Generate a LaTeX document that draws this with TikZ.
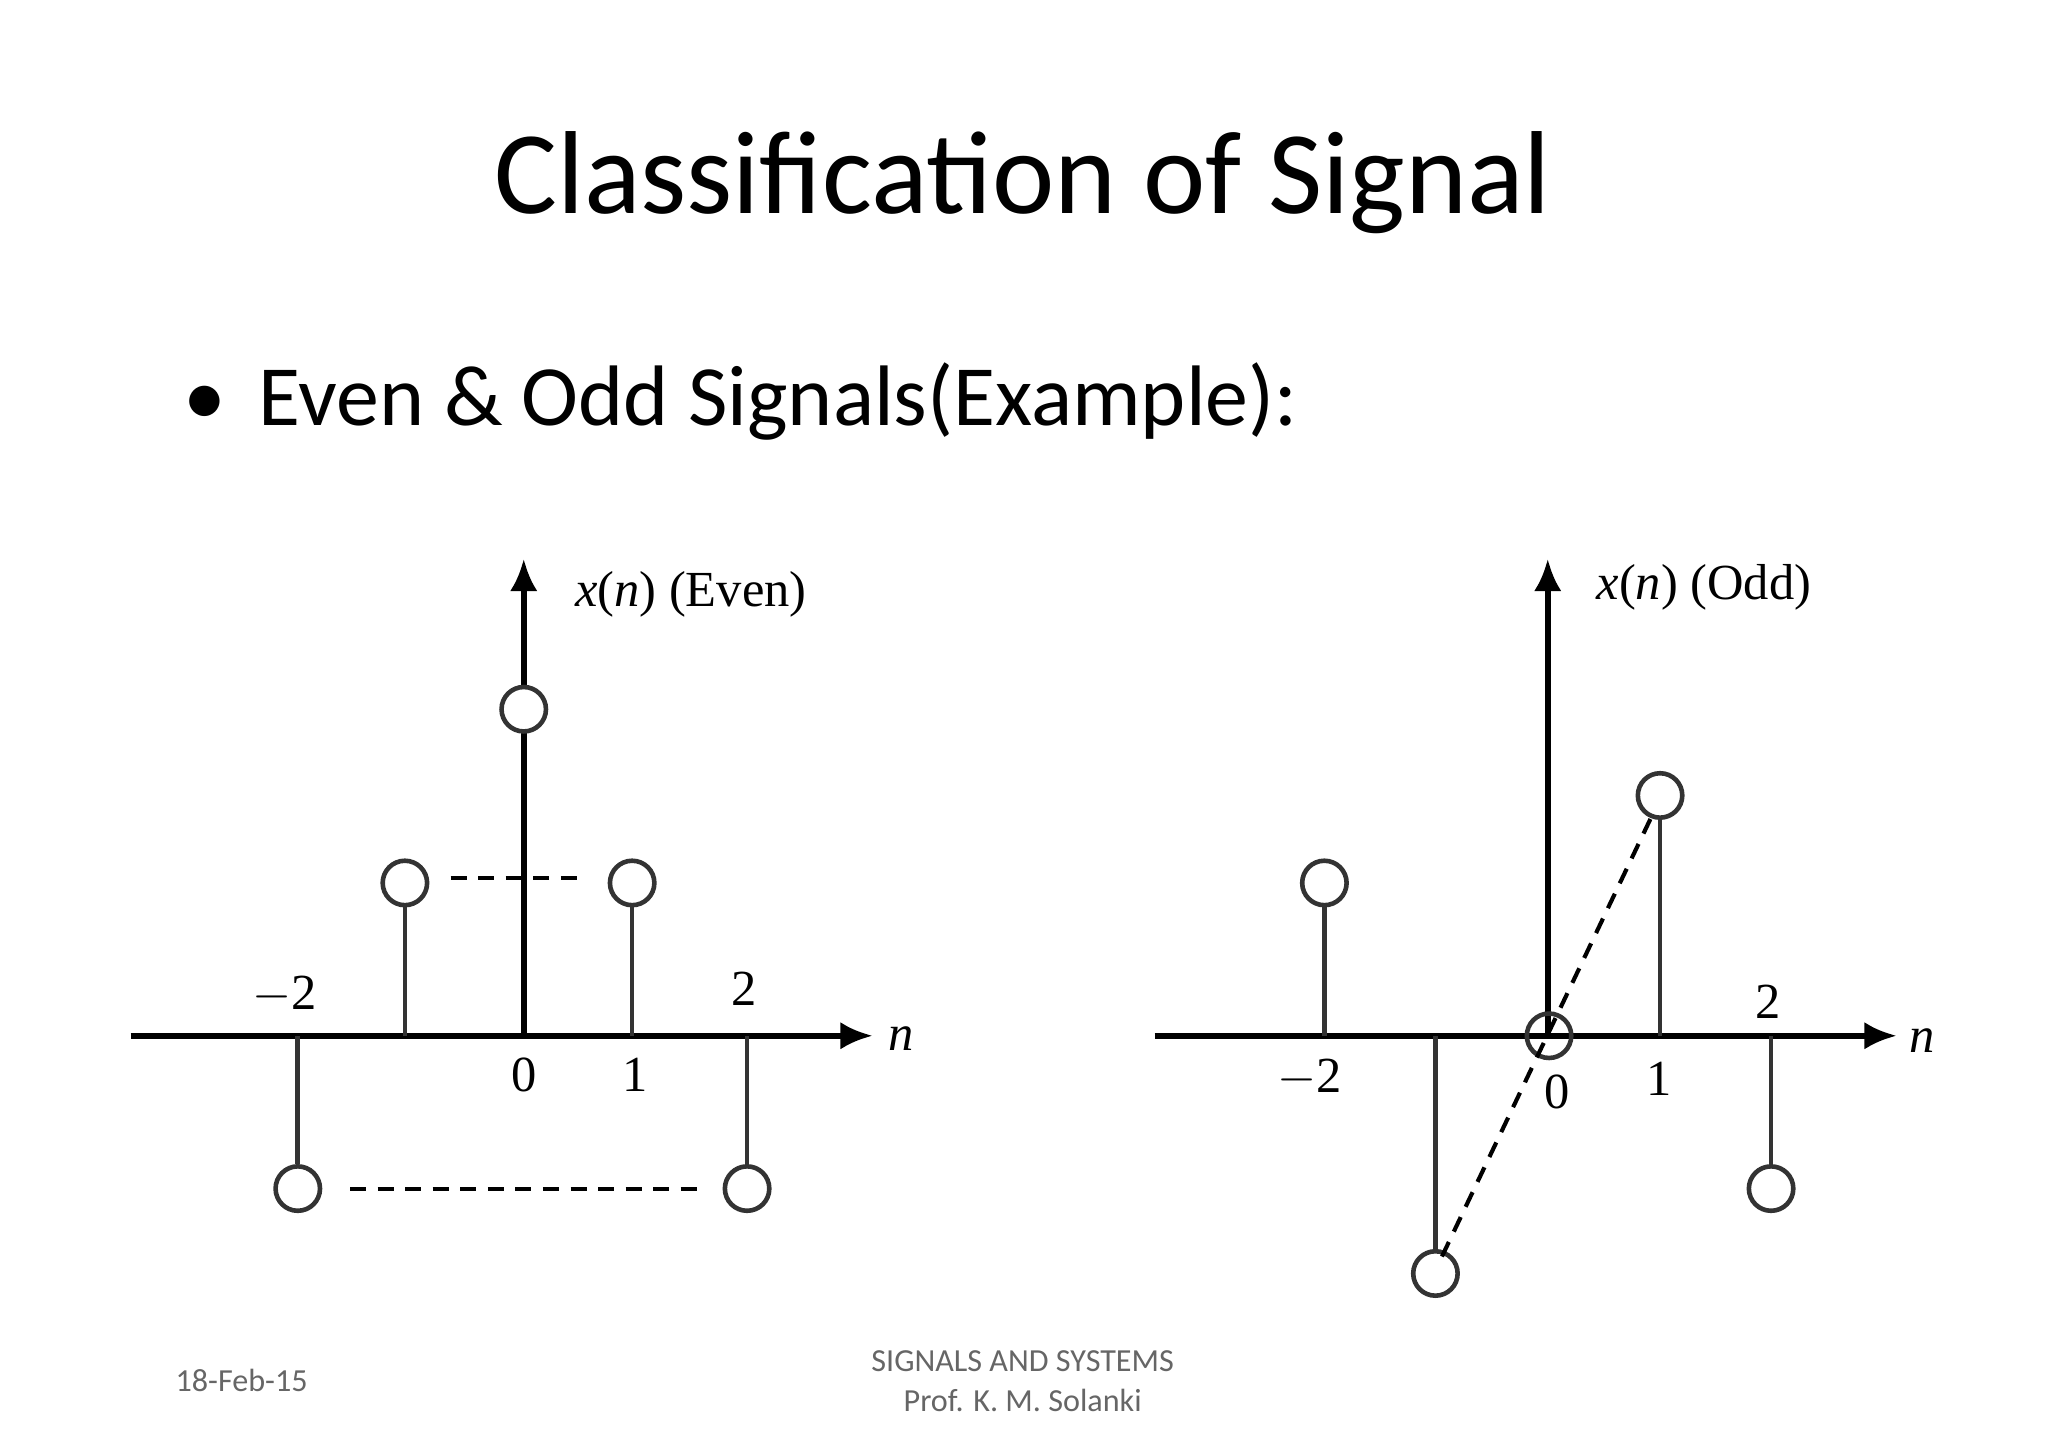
\documentclass[tikz,border=0pt]{standalone}
\usepackage{fontspec}
\setmainfont{Carlito}
\newfontfamily\tnr{Liberation Serif}
\usetikzlibrary{arrows.meta}
\begin{document}
\begin{tikzpicture}[x=0.01cm,y=-0.01cm,
  ax/.style={line width=1.2pt,-{Latex[length=7pt,width=6pt]}},
  stem/.style={line width=1pt,draw=black!80},
  dot/.style={circle,draw=black!80,line width=1pt,fill=white,minimum size=0.34cm,inner sep=0pt},
  dsh/.style={line width=0.9pt,dash pattern=on 3.5pt off 2.5pt},
  lab/.style={font=\tnr\fontsize{11}{13}\selectfont},
  foot/.style={font=\fontsize{7}{8.4}\selectfont,text=black!60}]
\useasboundingbox (0,0) rectangle (1568,1108);
\node (title) at (783,140) {\fontsize{25.7}{30}\selectfont Classification of Signal};
\node[anchor=west] (bul) at (128,307) {\fontsize{18.7}{22}\selectfont\textbullet\hspace{0.25cm}Even \& Odd Signals(Example):};
% left
\coordinate (la0) at (100,793); \coordinate (la1) at (668,793);
\coordinate (lv0) at (401,793); \coordinate (lv1) at (401,428);
\draw[ax] (la0) -- (la1);
\draw[ax] (lv0) -- (lv1);
\node[dot] (e1) at (228,910) {}; \draw[stem] (228,793) -- (e1);
\node[dot] (e2) at (310,676) {}; \draw[stem] (310,793) -- (e2);
\node[dot] (e3) at (401,543) {};
\node[dot] (e4) at (484,676) {}; \draw[stem] (484,793) -- (e4);
\node[dot] (e5) at (572,910) {}; \draw[stem] (572,793) -- (e5);
\draw[dsh] (345,672) -- (447,672);
\draw[dsh] (268,910) -- (540,910);
\node[lab] at (218,762) {$-$2};
\node[lab] at (570,757) {2};
\node[lab] at (401,823) {0};
\node[lab] at (486,823) {1};
\node[lab] at (690,795) {\textit{n}};
\node[lab,anchor=west] at (428,455) {\textit{x}(\textit{n}) (Even)};
% right
\coordinate (ra0) at (884,793); \coordinate (ra1) at (1452,793);
\coordinate (rv0) at (1185,793); \coordinate (rv1) at (1185,428);
\draw[ax] (ra0) -- (ra1);
\draw[ax] (rv0) -- (rv1);
\node[dot] (o1) at (1014,676) {}; \draw[stem] (1014,793) -- (o1);
\node[dot] (o2) at (1099,975) {}; \draw[stem] (1099,793) -- (o2);
\node[dot,fill=none] (o3) at (1186,793) {};
\node[dot] (o4) at (1271,609) {}; \draw[stem] (1271,793) -- (o4);
\node[dot] (o5) at (1356,910) {}; \draw[stem] (1356,793) -- (o5);
\draw[dsh] (1104,962) -- (1266,622);
\node[lab] at (1003,825) {$-$2};
\node[lab] at (1192,836) {0};
\node[lab] at (1270,826) {1};
\node[lab] at (1354,767) {2};
\node[lab] at (1472,797) {\textit{n}};
\node[lab,anchor=west] at (1210,450) {\textit{x}(\textit{n}) (Odd)};
% footer
\node[foot] at (185,1057) {18-Feb-15};
\node[foot] at (783,1042) {SIGNALS AND SYSTEMS};
\node[foot] at (783,1072) {Prof. K. M. Solanki};
\end{tikzpicture}
\end{document}
